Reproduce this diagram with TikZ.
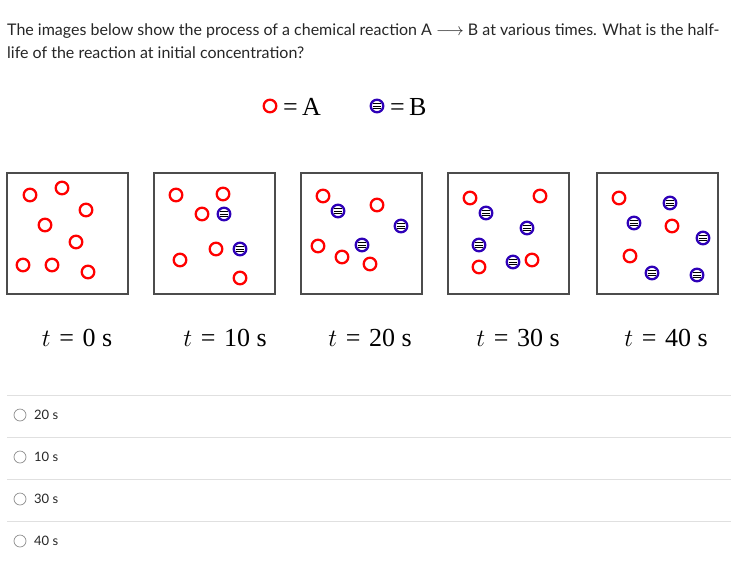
\documentclass[tikz,border=0pt]{standalone}
\usepackage{fontspec}
\setmainfont{Liberation Serif}
\newfontfamily\lato{Lato}
\begin{document}
\begin{tikzpicture}[x=1pt,y=-1pt,
  frame/.style={draw=black!70,line width=1.2pt},
  sep/.style={draw=black!12,line width=0.8pt},
  radio/.style={draw=black!45,line width=0.7pt,circle,minimum size=12pt,inner sep=0pt},
  qtext/.style={font=\lato\fontsize{16}{18}\selectfont,anchor=base west,inner sep=0pt,text=black!85},
  opt/.style={font=\lato\fontsize{13}{16}\selectfont,anchor=west,inner sep=0pt,text=black!85},
  tl/.style={font=\fontsize{26}{30}\selectfont,anchor=base,inner sep=0pt}]
\useasboundingbox (0,0) rectangle (741,576);
\def\A#1#2{\draw[red,line width=2.3pt] (#1,#2) circle (6.3pt);}
\def\B#1#2{\fill[white] (#1,#2) circle (6.3pt);
  \draw[black,line width=0.9pt] (#1-3.6,#2-2.5)--(#1+3.6,#2-2.5) (#1-4.4,#2)--(#1+4.4,#2) (#1-3.6,#2+2.5)--(#1+3.6,#2+2.5);
  \draw[blue!80!red!90!black,line width=2.3pt] (#1,#2) circle (6.3pt);}
\node[qtext] (q1) at (7,35) {The images below show the process of a chemical reaction A $\longrightarrow$ B at various times. What is the half-};
\node[qtext] (q2) at (7,58) {life of the reaction at initial concentration?};
\A{270}{106}
\node[tl,anchor=base west] (la) at (283,115) {=\,A};
\B{377}{106}
\node[tl,anchor=base west] (lb) at (390,115) {=\,B};
\foreach \x/\n in {7/b1,154/b2,301/b3,448/b4,597/b5}
  \draw[frame] (\x,173) rectangle ++(121,121);
\A{30}{195}\A{62}{188}\A{86}{210}\A{45}{225}\A{76}{242}\A{23}{265}\A{52}{265}\A{88}{272}
\A{176}{195}\A{223}{194}\A{202}{214}\B{224}{214}\A{216}{249}\B{240}{249}\A{180}{260}\A{240}{278}
\A{323}{196}\B{338}{211}\A{377}{205}\B{401}{226}\A{318}{246}\B{362}{245}\A{342}{257}\A{370}{264}
\A{470}{198}\B{486}{213}\A{540}{196}\B{527}{228}\B{479}{245}\A{479}{267}\B{513}{262}\A{532}{260}
\A{619}{198}\B{670}{203}\B{634}{223}\A{672}{226}\B{703}{238}\A{630}{256}\B{652}{273}\B{697}{275}
\foreach \x/\t in {77/0,225/10,370/20,518/30,666/40}
  \node[tl] at (\x,346) {$t$\,\,=\,\,\t\ s};
\foreach \y/\t [count=\i] in {415/20,457/10,499/30,541/40}{
  \draw[sep] (7,\y-20) -- (731,\y-20);
  \node[radio] (r\i) at (20,\y) {};
  \node[opt] (o\i) at (34,\y) {\t\ s};}
\end{tikzpicture}
\end{document}
